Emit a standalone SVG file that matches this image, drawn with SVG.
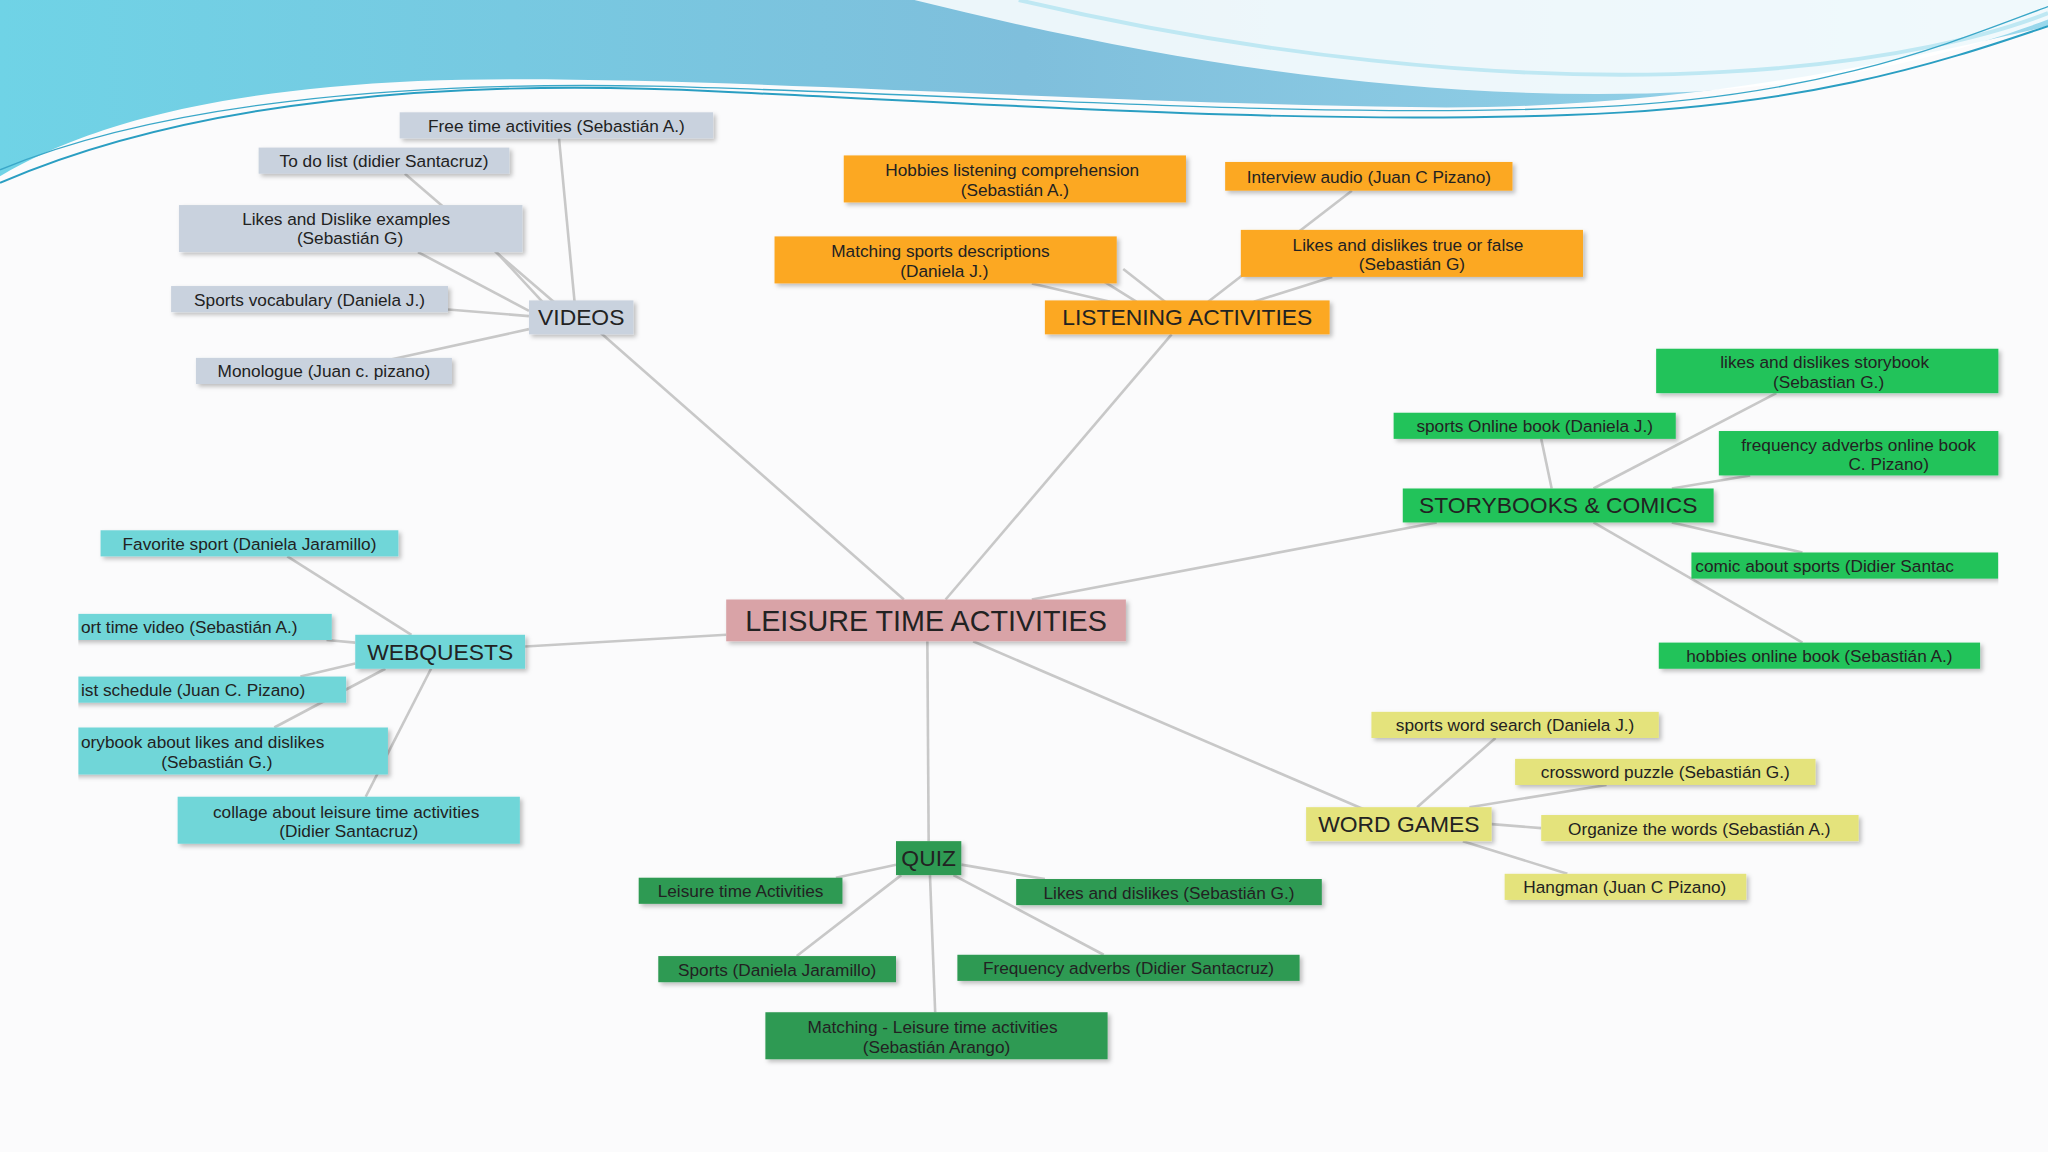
<svg xmlns="http://www.w3.org/2000/svg" width="2048" height="1152" viewBox="0 0 2048 1152">
<defs>
<linearGradient id="wave" x1="0" y1="0" x2="1" y2="0"><stop offset="0" stop-color="#6fd3e6"/><stop offset="0.5" stop-color="#7fbfdc"/><stop offset="1" stop-color="#9ad8ec"/></linearGradient>
<filter id="sh" x="-5%" y="-20%" width="115%" height="160%"><feDropShadow dx="2" dy="2" stdDeviation="1.5" flood-color="#000" flood-opacity="0.25"/></filter>
<clipPath id="clip"><rect x="60" y="0" width="1470" height="882"/></clipPath>
<style>
text{font-family:"Liberation Sans",Arial,sans-serif;font-size:13.2px;fill:#222;text-anchor:middle}
.big{font-size:17.5px}
.c{font-size:22px}
.st{text-anchor:start}
.g rect{fill:#c9d2de}.o rect{fill:#fca824}.s rect{fill:#20c35a}.t rect{fill:#6fd6d8}.y rect{fill:#e4e37c}.q rect{fill:#2e9a52}.m rect{fill:#d9a3a7}
rect{filter:url(#sh)}
#edges line{stroke:#c8c8c8;stroke-width:2}
</style>
</defs>
<rect width="2048" height="1152" fill="#fbfbfc"/>
<g transform="scale(1.30612)">
<path d="M0,0 H1568 V20 C1400,60 1250,85 1080,82 C800,78 500,55 320,62 C150,70 60,100 0,135 Z" fill="url(#wave)"/>
<path d="M700,0 C900,50 1100,80 1300,70 C1420,62 1500,40 1568,15 V0 Z" fill="#ffffff" opacity="0.85"/>
<path d="M780,0 C950,40 1150,65 1320,55 C1450,48 1530,25 1568,10" fill="none" stroke="#bfe8f3" stroke-width="3"/>
<path d="M0,140 C150,75 350,60 550,70 C800,82 1000,95 1200,88 C1380,82 1480,50 1568,20" fill="none" stroke="#2a9ec2" stroke-width="1.5"/>
<path d="M0,130 C120,80 300,62 500,66 C750,72 1000,92 1220,82 C1400,74 1500,30 1568,5" fill="none" stroke="#3aa7c8" stroke-width="1"/>
<g id="edges">
<line x1="692" y1="459" x2="460" y2="255"/><line x1="724" y1="459" x2="897" y2="256"/><line x1="790" y1="459" x2="1100" y2="400"/>
<line x1="556" y1="486" x2="402" y2="495"/><line x1="745" y1="491" x2="1045" y2="620"/><line x1="710" y1="491" x2="711" y2="644"/>
<line x1="440" y1="232" x2="428" y2="106"/><line x1="425" y1="232" x2="310" y2="133"/><line x1="418" y1="234" x2="380" y2="193"/><line x1="405" y1="238" x2="320" y2="193"/><line x1="405" y1="242" x2="343" y2="237"/><line x1="405" y1="252" x2="300" y2="275"/>
<line x1="892" y1="231" x2="860" y2="206"/><line x1="870" y1="231" x2="830" y2="206"/><line x1="850" y1="231" x2="790" y2="217"/><line x1="925" y1="231" x2="1035" y2="146"/><line x1="960" y1="231" x2="1020" y2="212"/>
<line x1="1188" y1="374" x2="1180" y2="336"/><line x1="1220" y1="374" x2="1360" y2="301"/><line x1="1280" y1="374" x2="1340" y2="364"/><line x1="1280" y1="400" x2="1380" y2="423"/><line x1="1220" y1="400" x2="1380" y2="492"/>
<line x1="315" y1="486" x2="220" y2="426"/><line x1="272" y1="492" x2="250" y2="490"/><line x1="272" y1="508" x2="230" y2="518"/><line x1="295" y1="512" x2="210" y2="557"/><line x1="330" y1="512" x2="280" y2="610"/>
<line x1="1085" y1="618" x2="1145" y2="565"/><line x1="1125" y1="618" x2="1230" y2="601"/><line x1="1142" y1="631" x2="1180" y2="634"/><line x1="1120" y1="644" x2="1200" y2="669"/>
<line x1="686" y1="662" x2="640" y2="672"/><line x1="736" y1="662" x2="800" y2="673"/><line x1="690" y1="670" x2="610" y2="732"/><line x1="730" y1="670" x2="845" y2="731"/><line x1="712" y1="670" x2="716" y2="775"/>
</g>
<g id="center" class="m"><rect x="556" y="459" width="306" height="32"/><text class="c" x="709" y="483">LEISURE TIME ACTIVITIES</text></g>
<g id="videos" class="g"><rect x="405" y="230" width="80" height="26"/><text class="big" x="445" y="249">VIDEOS</text></g>
<g id="v1" class="g"><rect x="306" y="86" width="240" height="20"/><text x="426" y="101">Free time activities (Sebastián A.)</text></g>
<g id="v2" class="g"><rect x="198" y="113" width="192" height="20"/><text x="294" y="128">To do list (didier Santacruz)</text></g>
<g id="v3" class="g"><rect x="137" y="157" width="263" height="36"/><text x="265" y="172">Likes and Dislike examples</text><text x="268" y="187">(Sebastián G)</text></g>
<g id="v4" class="g"><rect x="131" y="219" width="212" height="20"/><text x="237" y="234">Sports vocabulary (Daniela J.)</text></g>
<g id="v5" class="g"><rect x="150" y="274" width="196" height="20"/><text x="248" y="289">Monologue (Juan c. pizano)</text></g>
<g id="listening" class="o"><rect x="800" y="230" width="218" height="26"/><text class="big" x="909" y="249">LISTENING ACTIVITIES</text></g>
<g id="l1" class="o"><rect x="646" y="119" width="262" height="36"/><text x="775" y="135">Hobbies listening comprehension</text><text x="777" y="150">(Sebastián A.)</text></g>
<g id="l2" class="o"><rect x="938" y="124" width="220" height="22"/><text x="1048" y="140">Interview audio (Juan C Pizano)</text></g>
<g id="l3" class="o"><rect x="593" y="181" width="262" height="36"/><text x="720" y="197">Matching sports descriptions</text><text x="723" y="212">(Daniela J.)</text></g>
<g id="l4" class="o"><rect x="950" y="176" width="262" height="36"/><text x="1078" y="192">Likes and dislikes true or false</text><text x="1081" y="207">(Sebastián G)</text></g>
<g id="story" class="s"><rect x="1074" y="374" width="238" height="26"/><text class="big" x="1193" y="393">STORYBOOKS &amp; COMICS</text></g>
<g id="s1" class="s"><rect x="1268" y="267" width="262" height="34"/><text x="1397" y="282">likes and dislikes storybook</text><text x="1400" y="297">(Sebastian G.)</text></g>
<g id="s2" class="s"><rect x="1067" y="316" width="216" height="20"/><text x="1175" y="331">sports Online book (Daniela J.)</text></g>
<g id="s3" class="s"><rect x="1316" y="330" width="214" height="34"/><text x="1423" y="345">frequency adverbs online book</text><text x="1446" y="360">C. Pizano)</text></g>
<g id="s4" class="s" clip-path="url(#clip)"><rect x="1295" y="423" width="235" height="20"/><text class="st" x="1298" y="438">comic about sports (Didier Santac</text></g>
<g id="s5" class="s"><rect x="1270" y="492" width="246" height="20"/><text x="1393" y="507">hobbies online book (Sebastián A.)</text></g>
<g id="webquests" class="t"><rect x="272" y="486" width="130" height="26"/><text class="big" x="337" y="505">WEBQUESTS</text></g>
<g id="w1" class="t"><rect x="77" y="406" width="228" height="20"/><text x="191" y="421">Favorite sport (Daniela Jaramillo)</text></g>
<g clip-path="url(#clip)">
<g id="w2" class="t"><rect x="40" y="470" width="214" height="20"/><text class="st" x="62" y="485">ort time video (Sebastián A.)</text></g>
<g id="w3" class="t"><rect x="40" y="518" width="225" height="20"/><text class="st" x="62" y="533">ist schedule (Juan C. Pizano)</text></g>
<g id="w4" class="t"><rect x="40" y="557" width="257" height="36"/><text class="st" x="62" y="573">orybook about likes and dislikes</text><text x="166" y="588">(Sebastián G.)</text></g>
</g>
<g id="w5" class="t"><rect x="136" y="610" width="262" height="36"/><text x="265" y="626">collage about leisure time activities</text><text x="267" y="641">(Didier Santacruz)</text></g>
<g id="wordgames" class="y"><rect x="1000" y="618" width="142" height="26"/><text class="big" x="1071" y="637">WORD GAMES</text></g>
<g id="g1" class="y"><rect x="1050" y="545" width="220" height="20"/><text x="1160" y="560">sports word search (Daniela J.)</text></g>
<g id="g2" class="y"><rect x="1160" y="581" width="230" height="20"/><text x="1275" y="596">crossword puzzle (Sebastián G.)</text></g>
<g id="g3" class="y"><rect x="1180" y="624" width="243" height="20"/><text x="1301" y="639">Organize the words (Sebastián A.)</text></g>
<g id="g4" class="y"><rect x="1152" y="669" width="185" height="20"/><text x="1244" y="684">Hangman (Juan C Pizano)</text></g>
<g id="quiz" class="q"><rect x="686" y="644" width="50" height="26"/><text class="big" x="711" y="663">QUIZ</text></g>
<g id="q1" class="q"><rect x="489" y="672" width="156" height="20"/><text x="567" y="687">Leisure time Activities</text></g>
<g id="q2" class="q"><rect x="778" y="673" width="234" height="20"/><text x="895" y="688">Likes and dislikes (Sebastián G.)</text></g>
<g id="q3" class="q"><rect x="504" y="732" width="182" height="20"/><text x="595" y="747">Sports (Daniela Jaramillo)</text></g>
<g id="q4" class="q"><rect x="733" y="731" width="262" height="20"/><text x="864" y="746">Frequency adverbs (Didier Santacruz)</text></g>
<g id="q5" class="q"><rect x="586" y="775" width="262" height="36"/><text x="714" y="791">Matching - Leisure time activities</text><text x="717" y="806">(Sebastián Arango)</text></g>
</g>
</svg>
